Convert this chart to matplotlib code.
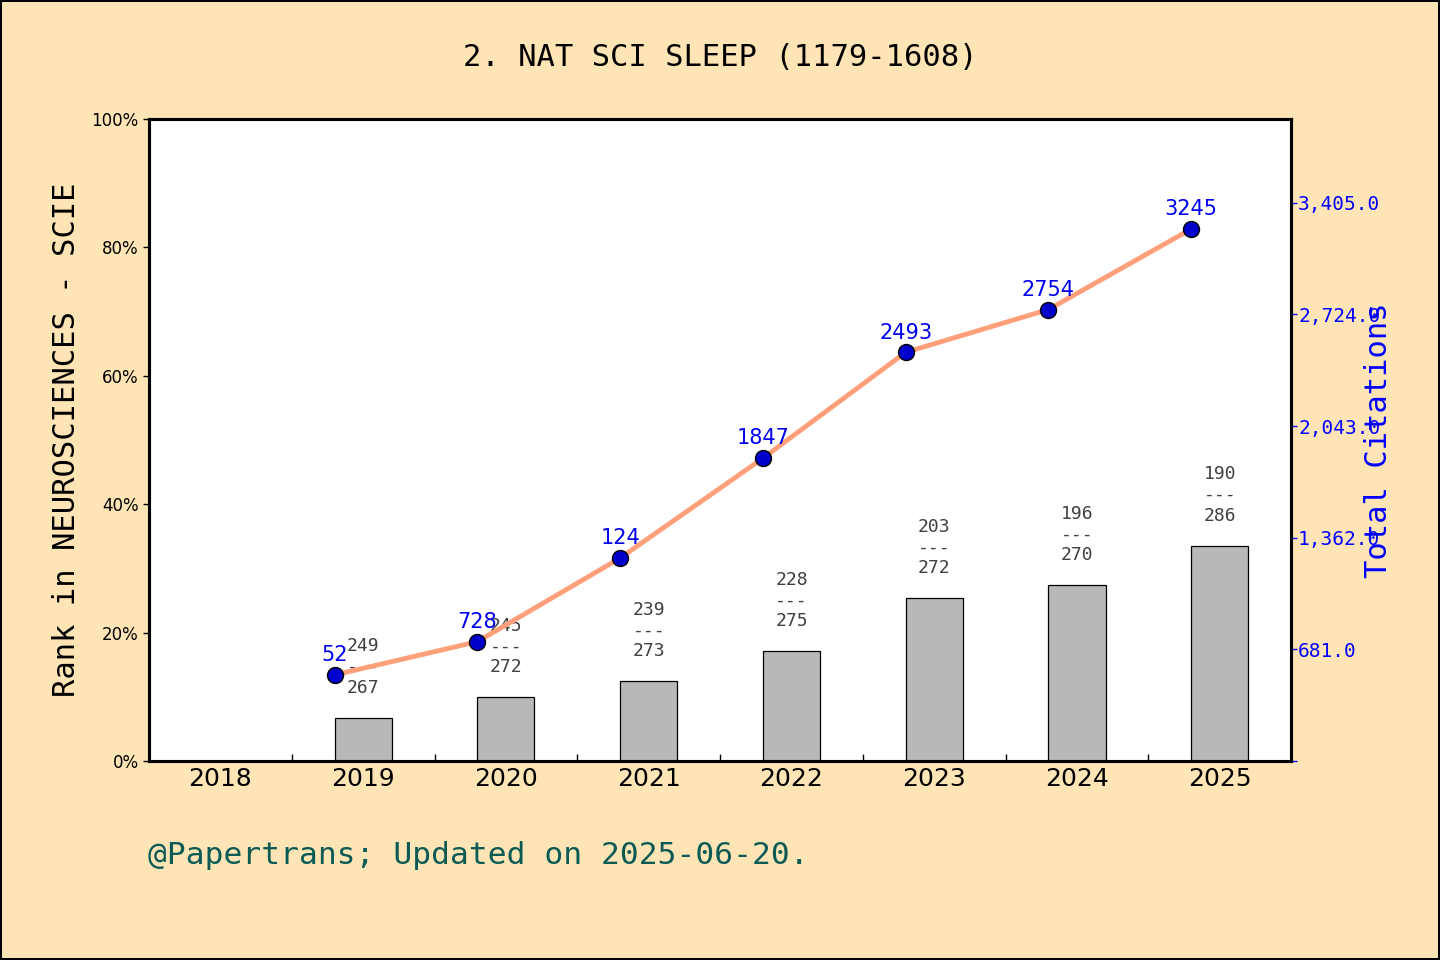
import matplotlib
matplotlib.use("Agg")
import matplotlib.pyplot as plt
from matplotlib.ticker import FixedLocator, FuncFormatter, PercentFormatter

# ---------------------------
# Données
# ---------------------------
years = ["2018", "2019", "2020", "2021", "2022", "2023", "2024", "2025"]
ranks = [None, 249, 245, 239, 228, 203, 196, 190]
totals = [None, 267, 272, 273, 275, 272, 270, 286]
citations = [None, 525, 728, 1238, 1847, 2493, 2754, 3245]
citation_labels = [None, "52", "728", "124", "1847", "2493", "2754", "3245"]
cite_ticks = [0, 681, 1362, 2043, 2724, 3405]

title = "2. NAT SCI SLEEP (1179-1608)"
footer = "@Papertrans; Updated on 2025-06-20."

bg = "#FFE4B5"
mono = "DejaVu Sans Mono"

fig = plt.figure(figsize=(14.4, 9.6), dpi=100, facecolor=bg,
                 edgecolor="black", linewidth=1.5)
ax = fig.add_axes([0.1035, 0.2073, 0.7931, 0.6687])
ax.set_facecolor("white")

# barres : percentile du rang
xs = [i for i, r in enumerate(ranks) if r is not None]
pct = [100 * (1 - ranks[i] / totals[i]) for i in xs]
ax.bar(xs, pct, width=0.4, color="#B8B8B8", edgecolor="black", linewidth=0.9, zorder=2)
for i, p in zip(xs, pct):
    ax.annotate(f"{ranks[i]}\n---\n{totals[i]}", (i, p), xytext=(0, 15),
                textcoords="offset points", ha="center", va="bottom",
                fontsize=13, family=mono, color="#404040", linespacing=1.2, zorder=3)

ax.set_xlim(-0.5, 7.5)
ax.set_ylim(0, 100)
ax.yaxis.set_major_locator(FixedLocator([0, 20, 40, 60, 80, 100]))
ax.yaxis.set_major_formatter(PercentFormatter(decimals=0))
ax.tick_params(axis="y", labelsize=12, direction="out", length=4, width=1)
ax.set_xticks([i + 0.5 for i in range(len(years) - 1)])
ax.set_xticklabels([])
ax.set_xticks(range(len(years)), minor=True)
ax.set_xticklabels(years, minor=True, fontsize=18)
ax.tick_params(axis="x", which="major", direction="in", length=5, width=1)
ax.tick_params(axis="x", which="minor", length=0, pad=4)
for s in ax.spines.values():
    s.set_linewidth(2.2)
ax.set_ylabel("Rank in NEUROSCIENCES - SCIE", fontsize=22, family=mono)
ax.yaxis.set_label_coords(-0.06, 0.5)

# ligne : citations totales
ax2 = ax.twinx()
lx = [i - 0.2 for i in xs]
ly = [citations[i] for i in xs]
ax2.plot(lx, ly, color="#FFA07A", lw=3.5, zorder=3)
ax2.plot(lx, ly, "o", ms=11.5, mfc="#0000CD", mec="black", mew=1, zorder=4)
for x, i in zip(lx, xs):
    ax2.annotate(citation_labels[i], (x, citations[i]), xytext=(0, 7),
                 textcoords="offset points", ha="center", va="bottom",
                 fontsize=15, color="#0000EE", zorder=5)
ax2.set_ylim(0, 3916)
ax2.yaxis.set_major_locator(FixedLocator(cite_ticks))
ax2.yaxis.set_major_formatter(FuncFormatter(lambda v, p: "" if v == 0 else f"{v:,.1f}"))
ax2.tick_params(axis="y", colors="blue", labelsize=14, length=4, width=1, pad=1)
for lab in ax2.get_yticklabels():
    lab.set_family(mono)
for s in ax2.spines.values():
    s.set_linewidth(2.2)
ax2.set_ylabel("Total Citations", fontsize=22, family=mono, color="blue")
ax2.yaxis.set_label_coords(1.064, 0.5)

fig.text(0.5, 0.94, title, ha="center", va="center", fontsize=22, family=mono)
fig.text(0.103, 0.109, footer, ha="left", va="center", fontsize=22.5,
         family=mono, color="#0A5A55")

fig.savefig("out.png", dpi=100, facecolor=bg, edgecolor="black")
